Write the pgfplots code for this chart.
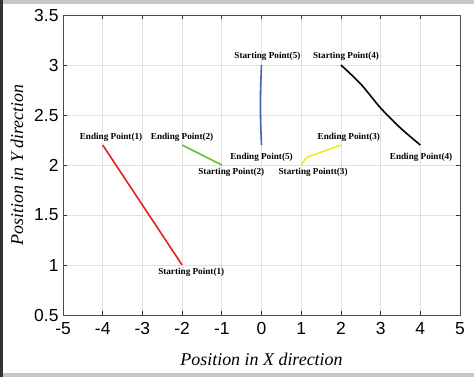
\documentclass[border=0pt]{standalone}
\usepackage{fontspec}
\setmainfont{Liberation Serif}
\setsansfont{Liberation Sans}
\usepackage{pgfplots}
\pgfplotsset{compat=1.18}
\definecolor{cred}{RGB}{230,30,35}
\definecolor{cgreen}{RGB}{100,190,50}
\definecolor{cblue}{RGB}{70,100,180}
\definecolor{cyellow}{RGB}{245,230,40}
\begin{document}
\begin{tikzpicture}[x=1bp,y=1bp]
\path[use as bounding box] (0,0) rectangle (474,377);
\fill[gray!45] (0,373) rectangle (474,377);
\fill[gray!45] (0,0) rectangle (474,4);
\fill[black!80] (0,0) rectangle (3,377);
\begin{axis}[
  at={(63bp,62bp)}, anchor=south west,
  scale only axis, width=397bp, height=300bp,
  xmin=-5, xmax=5, ymin=0.5, ymax=3.5,
  xtick={-5,...,5}, ytick={0.5,1,1.5,2,2.5,3,3.5},
  yticklabels={0.5,1,1.5,2,2.5,3,3.5},
  xticklabels={-5,-4,-3,-2,-1,0,1,2,3,4,5},
  grid=major, major grid style={black!12, line width=0.8pt},
  axis line style={black!70, line width=0.9pt},
  tick style={black!80, line width=0.8pt}, tick align=inside,
  major tick length=4bp,
  ticklabel style={font=\sffamily\fontsize{17.5}{17.5}\selectfont},
  /pgf/number format/assume math mode=true,
  xticklabel style={yshift=-4bp},
  yticklabel style={xshift=-1bp},
  xlabel={Position in X direction},
  ylabel={Position in Y direction},
  xlabel style={font=\itshape\fontsize{18}{18}\selectfont, at={(axis description cs:0.5,-0.147)}, anchor=center},
  ylabel style={font=\itshape\fontsize{18}{18}\selectfont, at={(axis description cs:-0.116,0.5)}, anchor=center, rotate=0},
  clip=false,
]
\addplot[cred, line width=1.6pt] coordinates {(-2,1) (-4,2.2)};
\addplot[cgreen, line width=1.6pt] coordinates {(-1,2) (-2,2.2)};
\addplot[cblue, line width=1.6pt, smooth] coordinates {(0,3) (-0.02,2.8) (-0.03,2.6) (-0.02,2.4) (0,2.2)};
\addplot[cyellow, line width=1.6pt, smooth, tension=0.5] coordinates {(1,2) (1.15,2.075) (1.45,2.12) (2,2.2)};
\addplot[black, line width=1.6pt, smooth] coordinates {(2,3) (2.5,2.81) (3,2.57) (3.5,2.37) (4,2.2)};
\begin{scope}[every node/.style={font=\bfseries\fontsize{9.2}{10}\selectfont, inner sep=0pt}]
\node at (axis cs:0.15,3.09) {Starting Point(5)};
\node at (axis cs:2.13,3.09) {Starting Point(4)};
\node at (axis cs:-3.79,2.28) {Ending Point(1)};
\node at (axis cs:-2.0,2.28) {Ending Point(2)};
\node at (axis cs:2.2,2.28) {Ending Point(3)};
\node at (axis cs:0.0,2.08) {Ending Point(5)};
\node at (axis cs:4.02,2.08) {Ending Point(4)};
\node at (axis cs:-0.76,1.93) {Starting Point(2)};
\node at (axis cs:1.3,1.93) {Starting Pointt(3)};
\node at (axis cs:-1.77,0.93) {Starting Point(1)};
\end{scope}
\end{axis}
\end{tikzpicture}
\end{document}
